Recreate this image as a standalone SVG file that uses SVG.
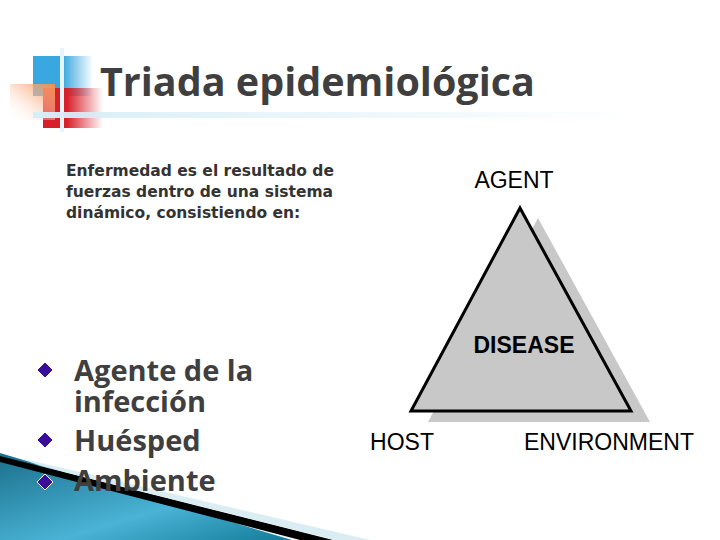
<svg xmlns="http://www.w3.org/2000/svg" width="720" height="540" viewBox="0 0 720 540">
<defs>
<linearGradient id="fadeB" x1="0" x2="1"><stop offset="0.5" stop-color="#3aa8e0"/><stop offset="1" stop-color="#3aa8e0" stop-opacity="0"/></linearGradient>
<linearGradient id="fadeR" x1="0" x2="1"><stop offset="0.4" stop-color="#d8202a"/><stop offset="1" stop-color="#d8202a" stop-opacity="0"/></linearGradient>
<linearGradient id="fadeO" x1="1" y1="0" x2="0" y2="1"><stop offset="0" stop-color="#f58a4a"/><stop offset="1" stop-color="#fff" stop-opacity="0"/></linearGradient>
<linearGradient id="line" x1="0" x2="1"><stop offset="0" stop-color="#d8eef6"/><stop offset="1" stop-color="#d8eef6" stop-opacity="0"/></linearGradient>
<linearGradient id="teal" x1="0" y1="0" x2="1" y2="1"><stop offset="0" stop-color="#1a6f8a"/><stop offset="0.6" stop-color="#4ab3d6"/><stop offset="1" stop-color="#137c9a"/></linearGradient>
<style>
.b{font-family:"Open Sans","DejaVu Sans",sans-serif;font-weight:bold;fill:#3f3f3f}
.v{font-family:"DejaVu Sans",Verdana,sans-serif;font-weight:bold;fill:#333}
.a{font-family:"Liberation Sans",Arial,sans-serif;fill:#000;font-size:23px}
.d{fill:#3a0e9a;stroke:#fff;stroke-width:1}
</style>
</defs>
<g id="logo">
<rect x="33" y="56" width="60" height="40" fill="url(#fadeB)"/>
<rect x="43" y="88" width="60" height="40" fill="url(#fadeR)"/>
<rect x="10" y="84" width="45" height="36" fill="url(#fadeO)"/>
<rect x="60" y="48" width="4" height="84" fill="#e6f5fa"/>
<rect x="33" y="112" width="600" height="6" fill="url(#line)"/>
</g>
<text class="b" x="100" y="96" font-size="39.5">Triada epidemiológica</text>
<g id="intro" class="v" font-size="15.5"><text x="66" y="176">Enfermedad es el resultado de</text><text x="66" y="197">fuerzas dentro de una sistema</text><text x="66" y="218">dinámico, consistiendo en:</text></g>
<g id="deco">
<polygon points="0,453 0,540 292,540" fill="url(#teal)"/>
<polygon points="0,456 333,540 300,540 0,462" fill="#000"/>
<polygon points="20,458 370,540 335,540 40,466" fill="#cfe8f0" opacity="0.8"/>
</g>
<g id="bullets">
<path class="d" d="M45,362 L53,370 L45,378 L37,370Z"/>
<path class="d" d="M45,432 L53,440 L45,448 L37,440Z"/>
<path class="d" d="M45,474 L53,482 L45,490 L37,482Z"/>
<g class="b" font-size="29"><text x="74" y="381">Agente de la</text><text x="74" y="412">infección</text><text x="74" y="451">Huésped</text><text x="74" y="491">Ambiente</text></g>
</g>
<g id="triangle">
<polygon points="538,218 650,422 428,422" fill="#c8c8c8"/>
<polygon points="520,208 631,411 411,411" fill="#c8c8c8" stroke="#000" stroke-width="3"/>
<text class="a" x="524" y="353" text-anchor="middle" font-weight="bold" font-size="23">DISEASE</text>
</g>
<g id="labels">
<text class="a" x="514" y="188" text-anchor="middle">AGENT</text>
<text class="a" x="402" y="450" text-anchor="middle">HOST</text>
<text class="a" x="609" y="450" text-anchor="middle">ENVIRONMENT</text>
</g>
</svg>
